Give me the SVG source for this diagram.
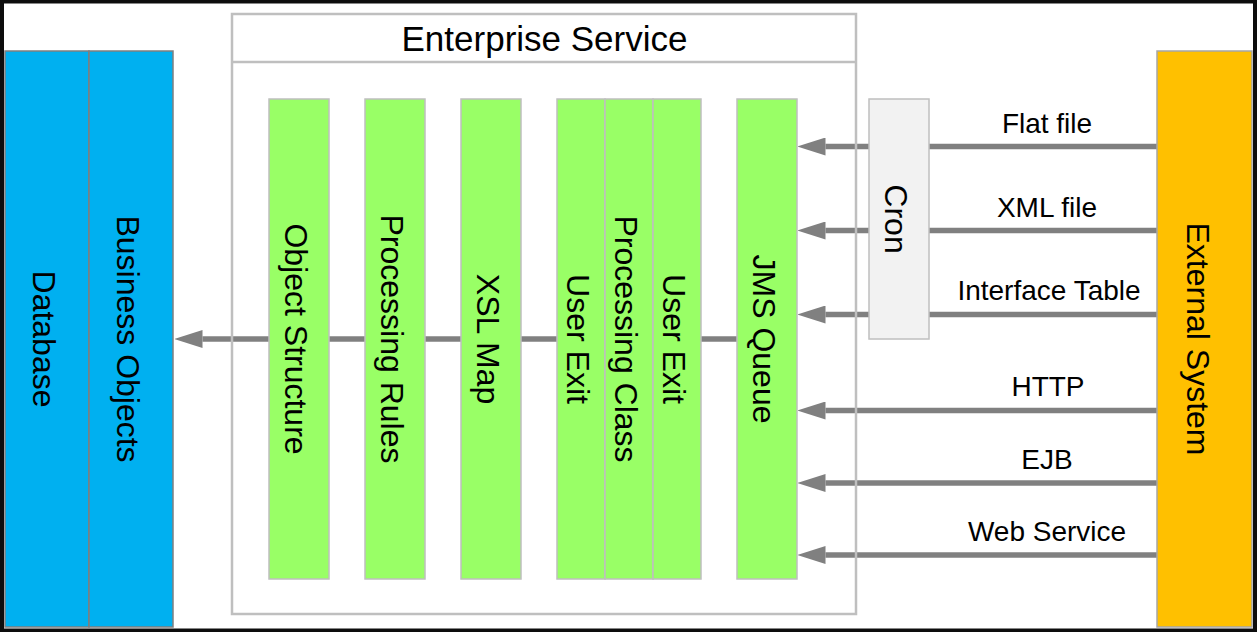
<svg xmlns="http://www.w3.org/2000/svg" width="1257" height="632" viewBox="0 0 1257 632">
<defs>
<style>
text{font-family:"Liberation Sans",Arial,sans-serif;fill:#000}
.v{font-size:32px;text-anchor:middle}
.lbl{font-size:28px;text-anchor:middle}
.title{font-size:35px;text-anchor:middle}
.blue{fill:#00B0F0;stroke:#7F7F7F;stroke-width:1.5}
.green{fill:#99FF66;stroke:#BFBFBF;stroke-width:1.5}
.cron{fill:#F2F2F2;stroke:#BFBFBF;stroke-width:1.5}
.ext{fill:#FFC000;stroke:#A6A6A6;stroke-width:1.5}
.frame{fill:none;stroke:#BFBFBF;stroke-width:2.5}
.conn{stroke:#808080;stroke-width:5.5;fill:none;marker-end:url(#ah)}
</style>
<marker id="ah" markerUnits="userSpaceOnUse" viewBox="0 0 28 18" markerWidth="28" markerHeight="18" refX="0" refY="9" orient="auto">
<path d="M0,0 L28,9 L0,18 z" fill="#808080"/>
</marker>
</defs>
<rect x="0" y="0" width="1257" height="632" fill="#0d0d0d"/>
<rect x="4" y="3.5" width="1249" height="625" fill="#fff"/>
<g id="enterprise-bg"><rect x="232" y="14" width="624" height="600" fill="#fff"/></g>
<g id="connectors">
<line class="conn" x1="1157" y1="146.5" x2="825.5" y2="146.5"/>
<line class="conn" x1="1157" y1="230.5" x2="825.5" y2="230.5"/>
<line class="conn" x1="1157" y1="314.5" x2="825.5" y2="314.5"/>
<line class="conn" x1="1157" y1="410.5" x2="825.5" y2="410.5"/>
<line class="conn" x1="1157" y1="483" x2="825.5" y2="483"/>
<line class="conn" x1="1157" y1="555" x2="825.5" y2="555"/>
<line class="conn" x1="737" y1="339" x2="202.5" y2="339"/>
<text class="lbl" x="1047" y="133">Flat file</text>
<text class="lbl" x="1047" y="217">XML file</text>
<text class="lbl" x="1049" y="300">Interface Table</text>
<text class="lbl" x="1048" y="396">HTTP</text>
<text class="lbl" x="1047" y="469">EJB</text>
<text class="lbl" x="1047" y="541">Web Service</text>
</g>
<g id="enterprise-service">
<rect class="frame" x="232" y="14" width="624" height="600"/>
<line x1="232" y1="62" x2="856" y2="62" stroke="#BFBFBF" stroke-width="2.5"/>
<text class="title" x="544.5" y="51">Enterprise Service</text>
</g>
<g id="database">
<rect class="blue" x="5" y="51" width="84" height="576"/>
<text class="v" transform="translate(33,339) rotate(90)">Database</text>
</g>
<g id="business-objects">
<rect class="blue" x="89" y="51" width="84" height="576"/>
<text class="v" transform="translate(117,339) rotate(90)">Business Objects</text>
</g>
<g id="object-structure">
<rect class="green" x="269" y="99" width="60" height="480"/>
<text class="v" transform="translate(285,339) rotate(90)">Object Structure</text>
</g>
<g id="processing-rules">
<rect class="green" x="365" y="99" width="60" height="480"/>
<text class="v" transform="translate(381,339) rotate(90)">Processing Rules</text>
</g>
<g id="xsl-map">
<rect class="green" x="461" y="99" width="60" height="480"/>
<text class="v" transform="translate(477,339) rotate(90)">XSL Map</text>
</g>
<g id="user-exit-1">
<rect class="green" x="557" y="99" width="48" height="480"/>
<text class="v" transform="translate(567,339) rotate(90)">User Exit</text>
</g>
<g id="processing-class">
<rect class="green" x="605" y="99" width="48" height="480"/>
<text class="v" transform="translate(615,339) rotate(90)">Processing Class</text>
</g>
<g id="user-exit-2">
<rect class="green" x="653" y="99" width="48" height="480"/>
<text class="v" transform="translate(663,339) rotate(90)">User Exit</text>
</g>
<g id="jms-queue">
<rect class="green" x="737" y="99" width="60" height="480"/>
<text class="v" transform="translate(753,339) rotate(90)">JMS Queue</text>
</g>
<g id="cron">
<rect class="cron" x="869" y="99" width="60" height="240"/>
<text class="v" transform="translate(885,219) rotate(90)">Cron</text>
</g>
<g id="external-system">
<rect class="ext" x="1157" y="51" width="95" height="576"/>
<text class="v" transform="translate(1187,339) rotate(90)">External System</text>
</g>
</svg>
